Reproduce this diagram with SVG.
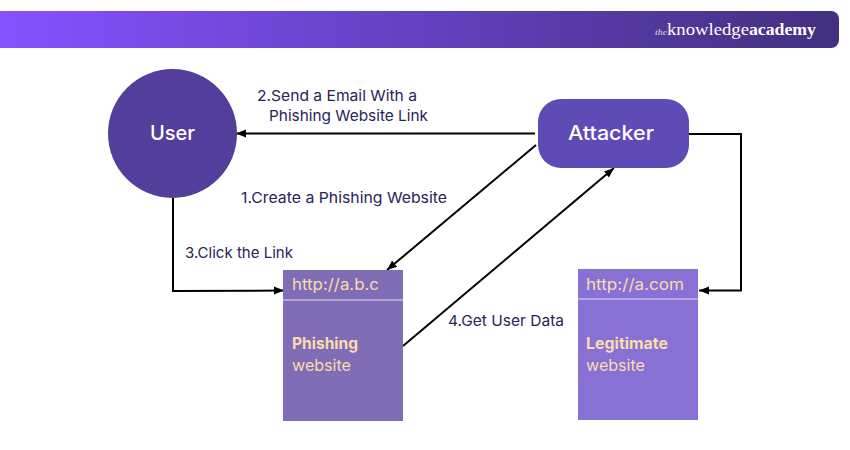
<svg xmlns="http://www.w3.org/2000/svg" width="850" height="450" viewBox="0 0 850 450">
<style>
.t{font-family:"Inter","Noto Sans","Liberation Sans",sans-serif}
.lbl{font-size:15px;fill:#2a2356}
.node{font-size:20px;font-weight:500;fill:#fff}
.url{font-size:16px;fill:#fbdcae}
.b{font-size:15.5px;font-weight:700;fill:#fbdcae}
.w{font-size:15.5px;fill:#fbdcae}
.logo{font-family:"Liberation Serif",serif;fill:#fff}
.c{fill:none;stroke:#000;stroke-width:2}
</style>
<defs>
<linearGradient id="bar" x1="0" x2="1" y1="0" y2="0"><stop offset="0" stop-color="#8552ff"/><stop offset="1" stop-color="#42307f"/></linearGradient>
<marker id="a" markerUnits="userSpaceOnUse" markerWidth="12" markerHeight="10" refX="10" refY="5" orient="auto"><path d="M0 1L10 5L0 9Z" fill="#000"/></marker>
</defs>
<g id="header">
<path d="M0 11H831a8 8 0 0 1 8 8V40a8 8 0 0 1-8 8H0Z" fill="url(#bar)"/>
<text class="logo" x="655" y="35" font-size="9" font-style="italic" fill-opacity=".8" textLength="12" lengthAdjust="spacingAndGlyphs">the</text>
<text class="logo" x="667" y="35" font-size="17" textLength="82" lengthAdjust="spacingAndGlyphs">knowledge</text>
<text class="logo" x="749" y="35" font-size="17" font-weight="700" textLength="67" lengthAdjust="spacingAndGlyphs">academy</text>
</g>
<g id="connectors">
<path class="c" d="M535 133.500H236" marker-end="url(#a)"/>
<path class="c" d="M536 145L387 270" marker-end="url(#a)"/>
<path class="c" d="M173 198V291L284 290.500" marker-end="url(#a)"/>
<path class="c" d="M403 346L614 168" marker-end="url(#a)"/>
<path class="c" d="M689 134H741V290.500H699" marker-end="url(#a)"/>
</g>
<g id="user"><circle cx="172.500" cy="133.500" r="64.500" fill="#533f9b"/><text class="t node" x="150" y="140" textLength="45" lengthAdjust="spacingAndGlyphs">User</text></g>
<g id="attacker"><rect x="538" y="99" width="151" height="69" rx="23" fill="#5f4bb6"/><text class="t node" x="568" y="140" textLength="86" lengthAdjust="spacingAndGlyphs">Attacker</text></g>
<g id="phishing">
<rect x="283" y="270" width="120" height="151" fill="#7f6db5"/>
<path d="M283 300H403" stroke="#e3dcf3" stroke-width="1"/>
<text class="t url" x="292" y="290" textLength="87" lengthAdjust="spacingAndGlyphs">http://a.b.c</text>
<text class="t b" x="292" y="349" textLength="66" lengthAdjust="spacingAndGlyphs">Phishing</text>
<text class="t w" x="292" y="371" textLength="59" lengthAdjust="spacingAndGlyphs">website</text>
</g>
<g id="legitimate">
<rect x="578" y="269" width="120" height="151" fill="#8871d4"/>
<path d="M578 299H698" stroke="#e3dcf3" stroke-width="1"/>
<text class="t url" x="586" y="290" textLength="98" lengthAdjust="spacingAndGlyphs">http://a.com</text>
<text class="t b" x="586" y="349" textLength="82" lengthAdjust="spacingAndGlyphs">Legitimate</text>
<text class="t w" x="586" y="371" textLength="59" lengthAdjust="spacingAndGlyphs">website</text>
</g>
<g id="labels">
<text class="t lbl" x="257" y="101" textLength="160" lengthAdjust="spacingAndGlyphs">2.Send a Email With a</text>
<text class="t lbl" x="269" y="121" textLength="159" lengthAdjust="spacingAndGlyphs">Phishing Website Link</text>
<text class="t lbl" x="241" y="203" textLength="206" lengthAdjust="spacingAndGlyphs">1.Create a Phishing Website</text>
<text class="t lbl" x="185" y="258" textLength="108" lengthAdjust="spacingAndGlyphs">3.Click the Link</text>
<text class="t lbl" x="448" y="326" textLength="116" lengthAdjust="spacingAndGlyphs">4.Get User Data</text>
</g>
</svg>
